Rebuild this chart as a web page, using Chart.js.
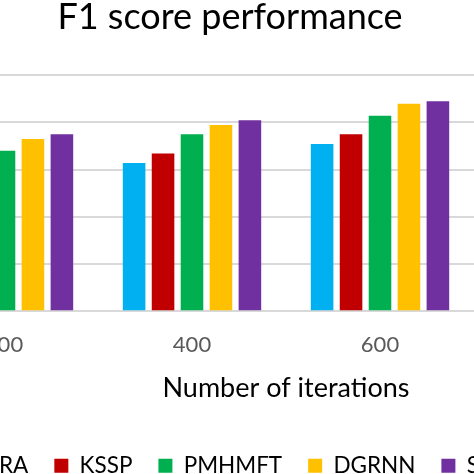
<!DOCTYPE html>
<html><head><meta charset="utf-8">
<script src="https://cdn.jsdelivr.net/npm/chart.js@4"></script>
<style>
html,body{margin:0;padding:0;background:#fff;overflow:hidden;width:474px;height:474px}
#wrap{position:relative;width:474px;height:474px;overflow:hidden;background:#fff}
#box{position:absolute;left:-202px;top:-4px;width:864px;height:491px}
</style></head><body>
<div id="wrap"><div id="box"><canvas id="c"></canvas></div></div>
<script>
const categories = ['200', '400', '600', '800'];
const seriesNames = ['MCRA', 'KSSP', 'PMHMFT', 'DGRNN', 'SGTA'];
const seriesColors = ['#00B0F0', '#C00000', '#00B050', '#FFC000', '#7030A0'];
const mcraValues   = [56, 62.8, 70.8, 76];
const ksspValues   = [60, 66.8, 74.9, 80];
const pmhmftValues = [67.9, 74.9, 82.8, 88];
const dgrnnValues  = [72.9, 78.8, 87.8, 92];
const sgtaValues   = [74.9, 80.8, 88.9, 94];
const yTicksMin = 0, yTicksMax = 100, yTicksStep = 20;

const allValues = [mcraValues, ksspValues, pmhmftValues, dgrnnValues, sgtaValues];
const FONT = 'Lato, "Open Sans", sans-serif';

new Chart(document.getElementById('c'), {
  type: 'bar',
  data: {
    labels: categories,
    datasets: seriesNames.map((n, i) => ({
      label: n,
      data: allValues[i],
      backgroundColor: seriesColors[i],
      borderWidth: 0,
      categoryPercentage: 0.77,
      barPercentage: 0.78
    }))
  },
  options: {
    responsive: true,
    maintainAspectRatio: false,
    animation: false,
    layout: { padding: 0 },
    plugins: {
      title: {
        display: true,
        text: 'F1 score performance',
        color: '#000',
        font: { family: FONT, size: 36, weight: 'normal' },
        padding: { top: 0, bottom: 35.8 }
      },
      legend: {
        position: 'bottom',
        labels: {
          color: '#000',
          font: { family: FONT, size: 22.5 },
          boxWidth: 14, boxHeight: 14,
          padding: 26
        }
      },
      tooltip: { enabled: false }
    },
    scales: {
      x: {
        grid: { display: false },
        border: { color: '#D9D9D9', width: 2 },
        ticks: { color: '#595959', font: { family: FONT, size: 22 }, padding: 12 },
        title: {
          display: true, text: 'Number of iterations', color: '#000',
          font: { family: FONT, size: 27 }, padding: { top: 2.4, bottom: 24 }
        }
      },
      y: {
        min: yTicksMin, max: yTicksMax,
        ticks: { stepSize: yTicksStep, color: '#595959', font: { family: FONT, size: 22 } },
        grid: { color: '#D9D9D9', lineWidth: 2, drawTicks: false },
        border: { display: false },
        afterFit: (s) => { s.width = 112; }
      }
    }
  }
});
</script>
</body></html>
